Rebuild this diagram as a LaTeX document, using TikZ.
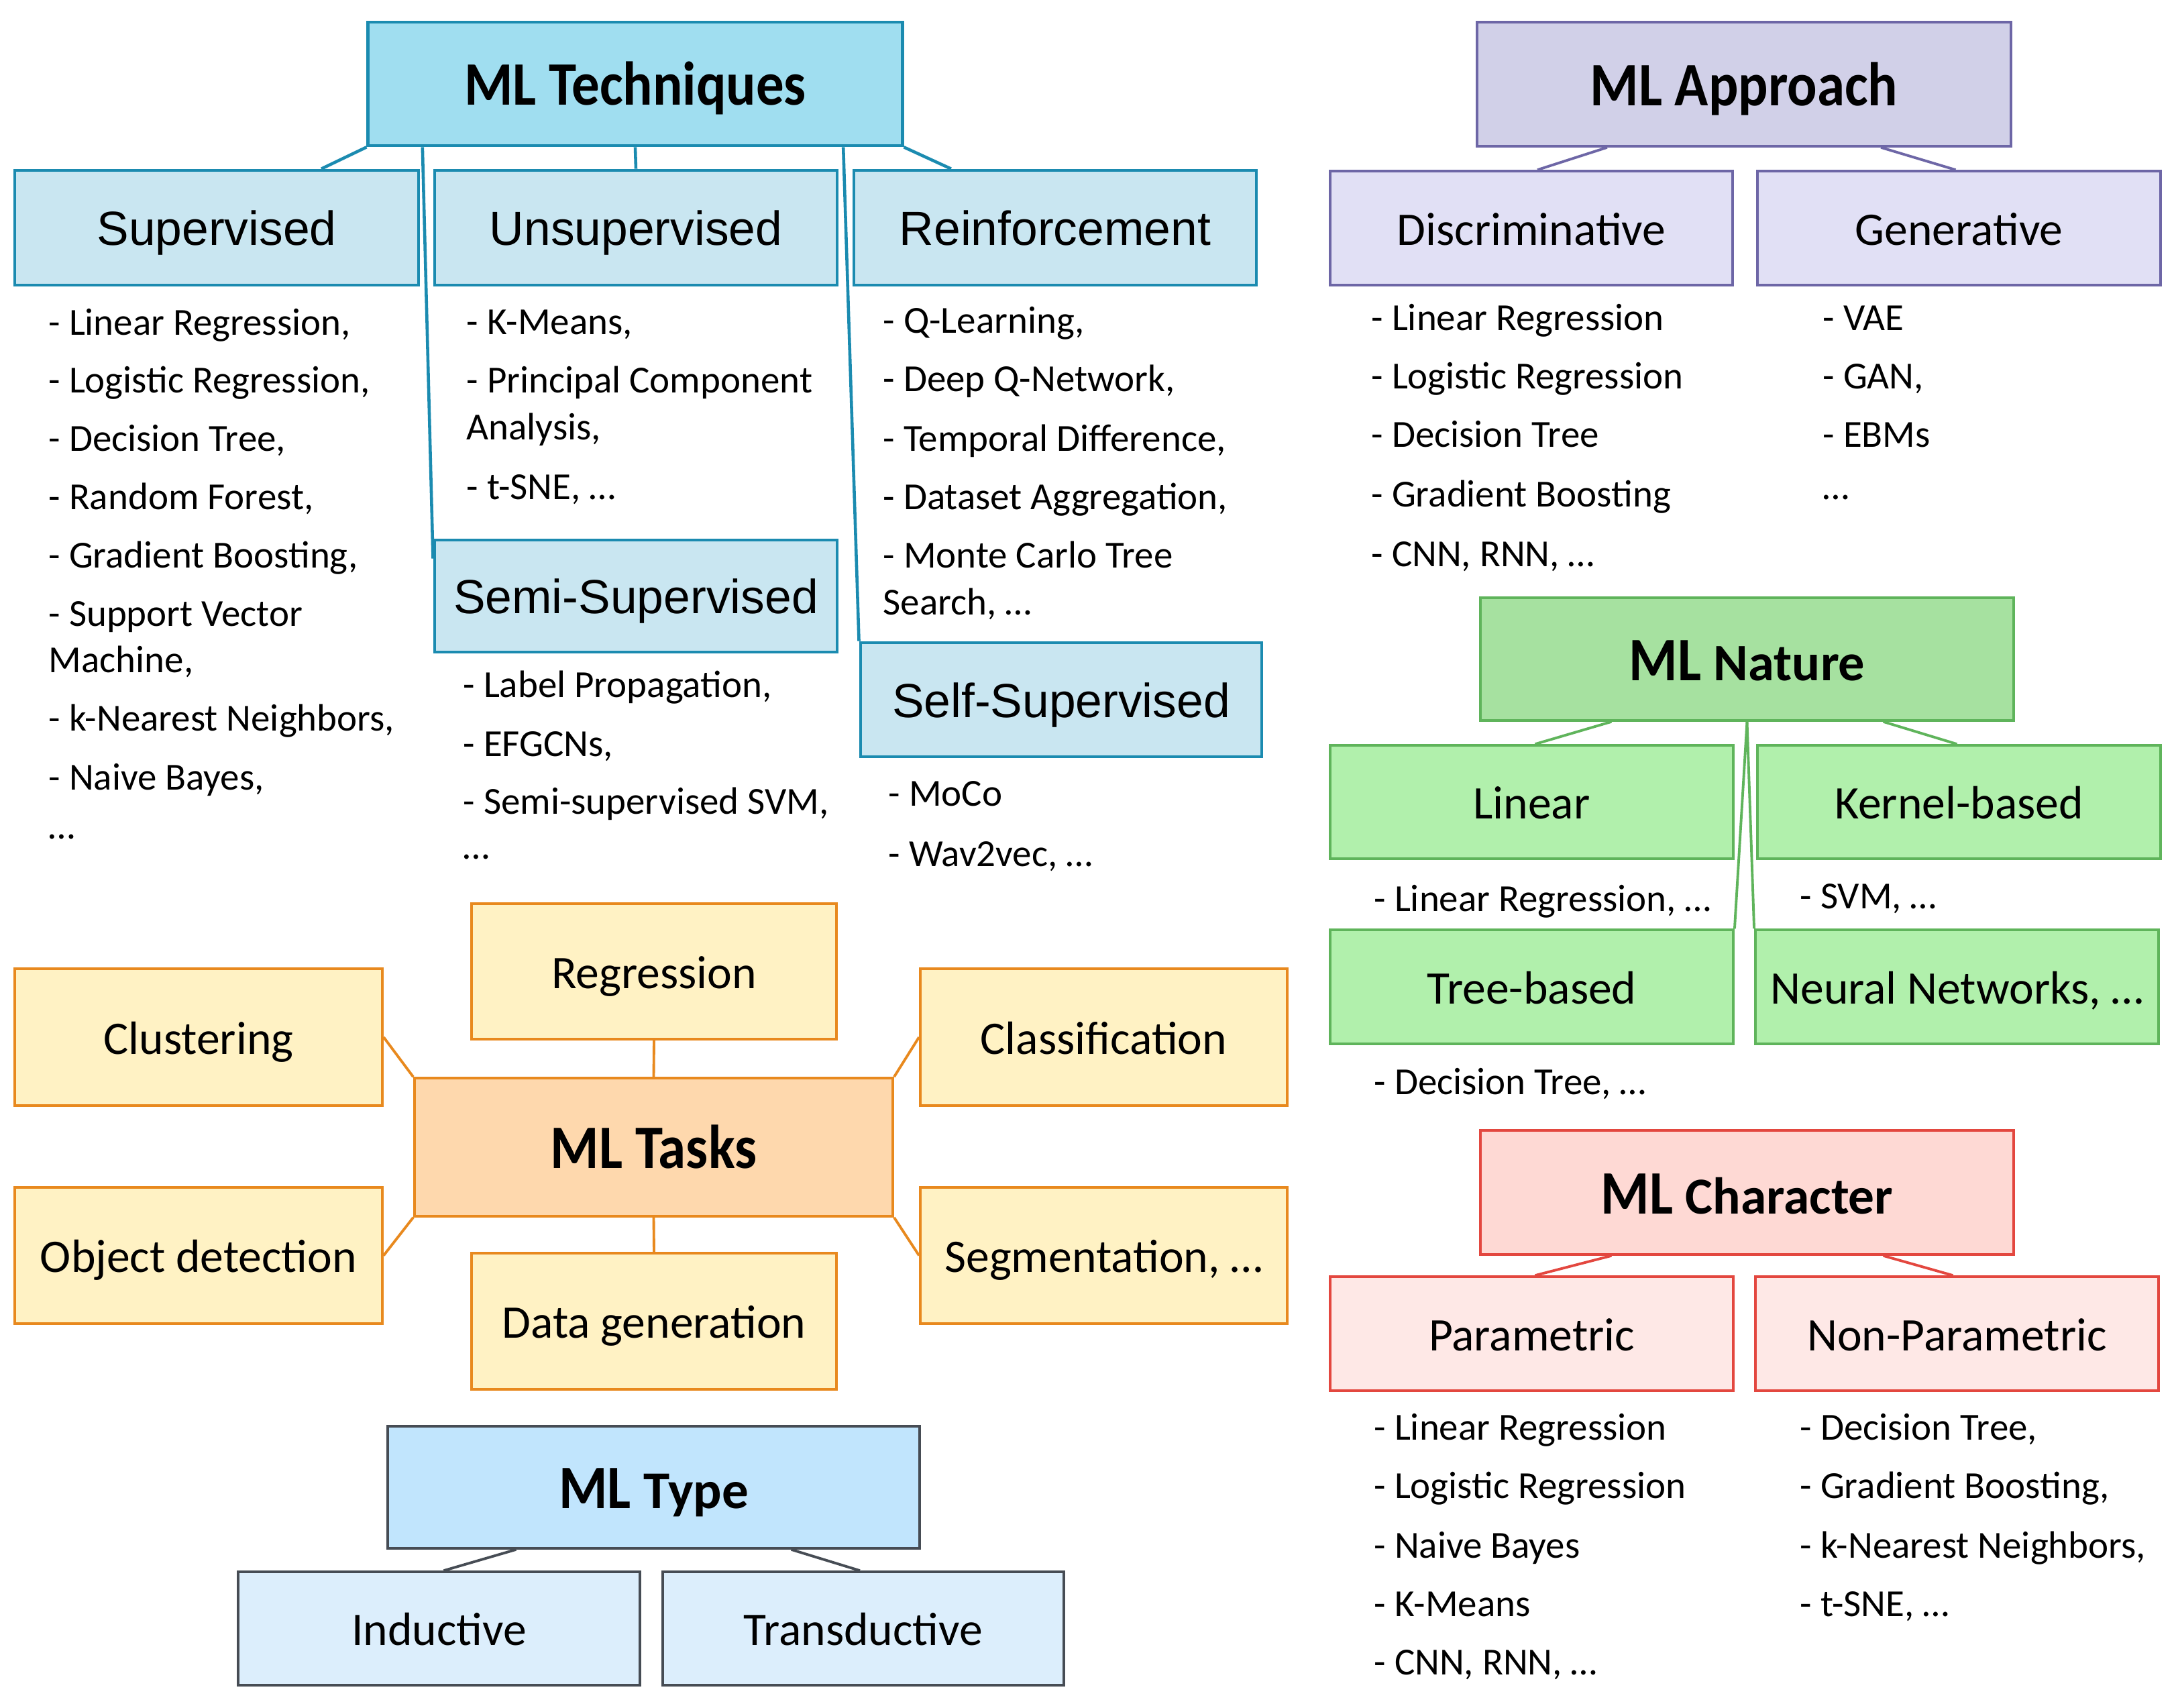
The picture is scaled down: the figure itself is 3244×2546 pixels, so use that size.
\documentclass[tikz,border=0pt]{standalone}
\usepackage{fontspec}
\setmainfont{Carlito}
\newfontfamily\arialf{Liberation Sans}
\newfontfamily\condf[FakeStretch=0.9]{Carlito}
\definecolor{techH}{HTML}{A0DEF0}
\definecolor{techS}{HTML}{C9E6F1}
\definecolor{techB}{HTML}{1B8BB0}
\definecolor{apH}{HTML}{D1D0E8}
\definecolor{apS}{HTML}{E1E0F5}
\definecolor{apB}{HTML}{6D66A6}
\definecolor{naH}{HTML}{A6E1A0}
\definecolor{naS}{HTML}{B1F0AC}
\definecolor{naB}{HTML}{5FB45B}
\definecolor{chH}{HTML}{FED9D4}
\definecolor{chS}{HTML}{FEE8E6}
\definecolor{chB}{HTML}{E3473F}
\definecolor{taH}{HTML}{FED8AD}
\definecolor{taS}{HTML}{FFF2C4}
\definecolor{taB}{HTML}{E8891E}
\definecolor{tyH}{HTML}{C1E5FD}
\definecolor{tyS}{HTML}{DCEEFC}
\definecolor{tyB}{HTML}{464C54}
\begin{document}
\begin{tikzpicture}[x=0.01cm,y=-0.01cm,
  bx/.style={rectangle, draw, inner sep=0pt, align=center, text=black, line width=1pt},
  headfont/.style={font=\condf\bfseries\fontsize{26.2}{30}\selectfont, text height=18pt, text depth=0pt},
  subfont/.style={font=\fontsize{19.8}{24}\selectfont, text height=14.3pt, text depth=0pt},
  techhead/.style={bx, headfont, fill=techH, draw=techB, line width=1.3pt},
  techsub/.style={bx, fill=techS, draw=techB, line width=1.3pt, font=\arialf\fontsize{20.3}{24}\selectfont, text height=15pt, text depth=0pt},
  aphead/.style={bx, headfont, fill=apH, draw=apB},
  apsub/.style={bx, subfont, fill=apS, draw=apB},
  nahead/.style={bx, headfont, fill=naH, draw=naB},
  nasub/.style={bx, subfont, fill=naS, draw=naB},
  chhead/.style={bx, headfont, fill=chH, draw=chB},
  chsub/.style={bx, subfont, fill=chS, draw=chB},
  tahead/.style={bx, headfont, fill=taH, draw=taB},
  tasub/.style={bx, subfont, fill=taS, draw=taB},
  tyhead/.style={bx, headfont, fill=tyH, draw=tyB},
  tysub/.style={bx, subfont, fill=tyS, draw=tyB},
  lst/.style={anchor=base west, inner sep=0pt, text=black, font=\fontsize{16.2}{19}\selectfont},
  techc/.style={draw=techB, line width=1.3pt},
  apc/.style={draw=apB, line width=1.1pt},
  nac/.style={draw=naB, line width=1.1pt},
  chc/.style={draw=chB, line width=1.1pt},
  tac/.style={draw=taB, line width=1.1pt},
  tyc/.style={draw=tyB, line width=1.1pt}
]
\useasboundingbox[fill=white] (0,0) rectangle (3244,2546);
\newcommand{\sw}[2]{{\rmfamily\bfseries\fontsize{#1}{#1}\selectfont #2}}

% ---------- ML Techniques ----------
\node[techhead, minimum width=7.96cm, minimum height=1.84cm] (tech) at (947,125) {ML Techniques};
\node[techsub, minimum width=6.02cm, minimum height=1.71cm] (sup) at (323,339.5) {Supervised};
\node[techsub, minimum width=6.00cm, minimum height=1.71cm] (unsup) at (948,339.5) {Unsupervised};
\node[techsub, minimum width=6.00cm, minimum height=1.71cm] (reinf) at (1573,339.5) {Reinforcement};
\node[techsub, minimum width=6.00cm, minimum height=1.67cm] (semi) at (948,888.5) {Semi-Supervised};
\node[techsub, minimum width=5.98cm, minimum height=1.70cm] (self) at (1582,1043) {Self-Supervised};

\draw[techc] (tech.south west) -- ([xshift=1.56cm]sup.north);
\draw[techc] ([xshift=-3.17cm]tech.south) -- ([yshift=-0.3cm]semi.north west);
\draw[techc] (tech.south) -- (unsup.north);
\draw[techc] ([xshift=3.10cm]tech.south) -- (self.north west);
\draw[techc] (tech.south east) -- ([xshift=-1.55cm]reinf.north);

\node[lst] (s1) at (72,500) {- Linear Regression,};
\node[lst] (s2) at (72,586) {- Logistic Regression,};
\node[lst] (s3) at (72,673) {- Decision Tree,};
\node[lst] (s4) at (72,760) {- Random Forest,};
\node[lst] (s5) at (72,847) {- Gradient Boosting,};
\node[lst] (s6) at (72,934) {- Support Vector};
\node[lst] (s7) at (72,1003) {Machine,};
\node[lst] (s8) at (72,1090) {- k-Nearest Neighbors,};
\node[lst] (s9) at (72,1177) {- Naive Bayes,};
\node[lst] (s10) at (72,1250) {…};

\node[lst] (u1) at (695,499) {- K-Means,};
\node[lst] (u2) at (695,586) {- Principal Component};
\node[lst] (u3) at (695,656) {Analysis,};
\node[lst] (u4) at (695,745) {- t-SNE, …};

\node[lst] (m1) at (690,1040) {- Label Propagation,};
\node[lst] (m2) at (690,1127) {- EFGCNs,};
\node[lst] (m3) at (690,1213) {- Semi-supervised SVM,};
\node[lst] (m4) at (690,1280) {…};

\node[lst] (r1) at (1316,497) {- Q-Learning,};
\node[lst] (r2) at (1316,584) {- Deep Q-Network,};
\node[lst] (r3) at (1316,673) {- Temporal Difference,};
\node[lst] (r4) at (1316,760) {- Dataset Aggregation,};
\node[lst] (r5) at (1316,847) {- Monte Carlo Tree};
\node[lst] (r6) at (1316,917) {Search, …};

\node[lst] (f1) at (1324,1202) {- MoCo};
\node[lst] (f2) at (1324,1291) {- Wav2vec, …};

% ---------- ML Approach ----------
\node[aphead, minimum width=7.96cm, minimum height=1.85cm] (appr) at (2600,125.5) {ML Approach};
\node[apsub, minimum width=6.00cm, minimum height=1.70cm] (disc) at (2283,340) {Discriminative};
\node[apsub, minimum width=6.01cm, minimum height=1.70cm] (gen) at (2920.5,340) {Generative};
\draw[apc] ([xshift=-2.04cm]appr.south) -- ([xshift=0.09cm]disc.north);
\draw[apc] ([xshift=2.04cm]appr.south) -- ([xshift=-0.05cm]gen.north);

\node[lst] (d1) at (2044,493) {- Linear Regression};
\node[lst] (d2) at (2044,580) {- Logistic Regression};
\node[lst] (d3) at (2044,667) {- Decision Tree};
\node[lst] (d4) at (2044,756) {- Gradient Boosting};
\node[lst] (d5) at (2044,845) {- CNN, RNN, …};

\node[lst] (g1) at (2717,493) {- VAE};
\node[lst] (g2) at (2717,580) {- GAN,};
\node[lst] (g3) at (2717,667) {- EBMs};
\node[lst] (g4) at (2717,745) {…};

% ---------- ML Nature ----------
\node[nahead, minimum width=7.95cm, minimum height=1.83cm] (nat) at (2604.5,982.5) {ML \sw{22.3}{Nature}};
\node[nasub, minimum width=6.01cm, minimum height=1.69cm] (lin) at (2283.5,1195.5) {Linear};
\node[nasub, minimum width=6.01cm, minimum height=1.69cm] (ker) at (2920.5,1195.5) {Kernel-based};
\node[nasub, minimum width=6.01cm, minimum height=1.70cm] (tree) at (2283.5,1471) {Tree-based};
\node[nasub, minimum width=6.01cm, minimum height=1.70cm] (nn) at (2917.5,1471) {Neural Networks, …};
\draw[nac] ([xshift=-2.02cm]nat.south) -- ([xshift=0.05cm]lin.north);
\draw[nac] ([xshift=2.03cm]nat.south) -- ([xshift=-0.03cm]ker.north);
\draw[nac] (nat.south) -- (tree.north east);
\draw[nac] (nat.south) -- (nn.north west);

\node[lst] (l1) at (2048,1358) {- Linear Regression, …};
\node[lst] (k1) at (2683,1354) {- SVM, …};
\node[lst] (t1) at (2048,1631) {- Decision Tree, …};

% ---------- ML Character ----------
\node[chhead, minimum width=7.95cm, minimum height=1.85cm] (chr) at (2604.5,1777.5) {ML \sw{22}{Character}};
\node[chsub, minimum width=6.01cm, minimum height=1.70cm] (par) at (2283.5,1988) {Parametric};
\node[chsub, minimum width=6.01cm, minimum height=1.70cm] (npar) at (2917.5,1988) {Non-Parametric};
\draw[chc] ([xshift=-2.02cm]chr.south) -- ([xshift=0.05cm]par.north);
\draw[chc] ([xshift=2.03cm]chr.south) -- ([xshift=-0.06cm]npar.north);

\node[lst] (p1) at (2048,2146) {- Linear Regression};
\node[lst] (p2) at (2048,2233) {- Logistic Regression};
\node[lst] (p3) at (2048,2322) {- Naive Bayes};
\node[lst] (p4) at (2048,2409) {- K-Means};
\node[lst] (p5) at (2048,2496) {- CNN, RNN, …};

\node[lst] (n1) at (2683,2146) {- Decision Tree,};
\node[lst] (n2) at (2683,2233) {- Gradient Boosting,};
\node[lst] (n3) at (2683,2322) {- k-Nearest Neighbors,};
\node[lst] (n4) at (2683,2409) {- t-SNE, …};

% ---------- ML Tasks ----------
\node[tahead, minimum width=7.13cm, minimum height=2.06cm] (task) at (974.5,1710) {ML Tasks};
\node[tasub, minimum width=5.44cm, minimum height=2.02cm] (regr) at (975,1448) {Regression};
\node[tasub, minimum width=5.48cm, minimum height=2.04cm] (clus) at (296,1546) {Clustering};
\node[tasub, minimum width=5.47cm, minimum height=2.04cm] (clas) at (1645.5,1546) {Classification};
\node[tasub, minimum width=5.48cm, minimum height=2.03cm] (objd) at (296,1871.5) {Object detection};
\node[tasub, minimum width=5.47cm, minimum height=2.03cm] (segm) at (1645.5,1871.5) {Segmentation, …};
\node[tasub, minimum width=5.44cm, minimum height=2.03cm] (dgen) at (975,1969.5) {Data generation};
\draw[tac] (regr.south) -- (task.north);
\draw[tac] (dgen.north) -- (task.south);
\draw[tac] (clus.east) -- (task.north west);
\draw[tac] (clas.west) -- (task.north east);
\draw[tac] (objd.east) -- (task.south west);
\draw[tac] (segm.west) -- (task.south east);

% ---------- ML Type ----------
\node[tyhead, minimum width=7.93cm, minimum height=1.82cm] (typ) at (974.5,2217) {ML \sw{22.5}{Type}};
\node[tysub, minimum width=5.99cm, minimum height=1.69cm] (ind) at (654.5,2427.5) {Inductive};
\node[tysub, minimum width=5.98cm, minimum height=1.69cm] (tra) at (1287,2427.5) {Transductive};
\draw[tyc] ([xshift=-2.05cm]typ.south) -- ([xshift=0.07cm]ind.north);
\draw[tyc] ([xshift=2.05cm]typ.south) -- ([xshift=-0.05cm]tra.north);
\end{tikzpicture}
\end{document}
